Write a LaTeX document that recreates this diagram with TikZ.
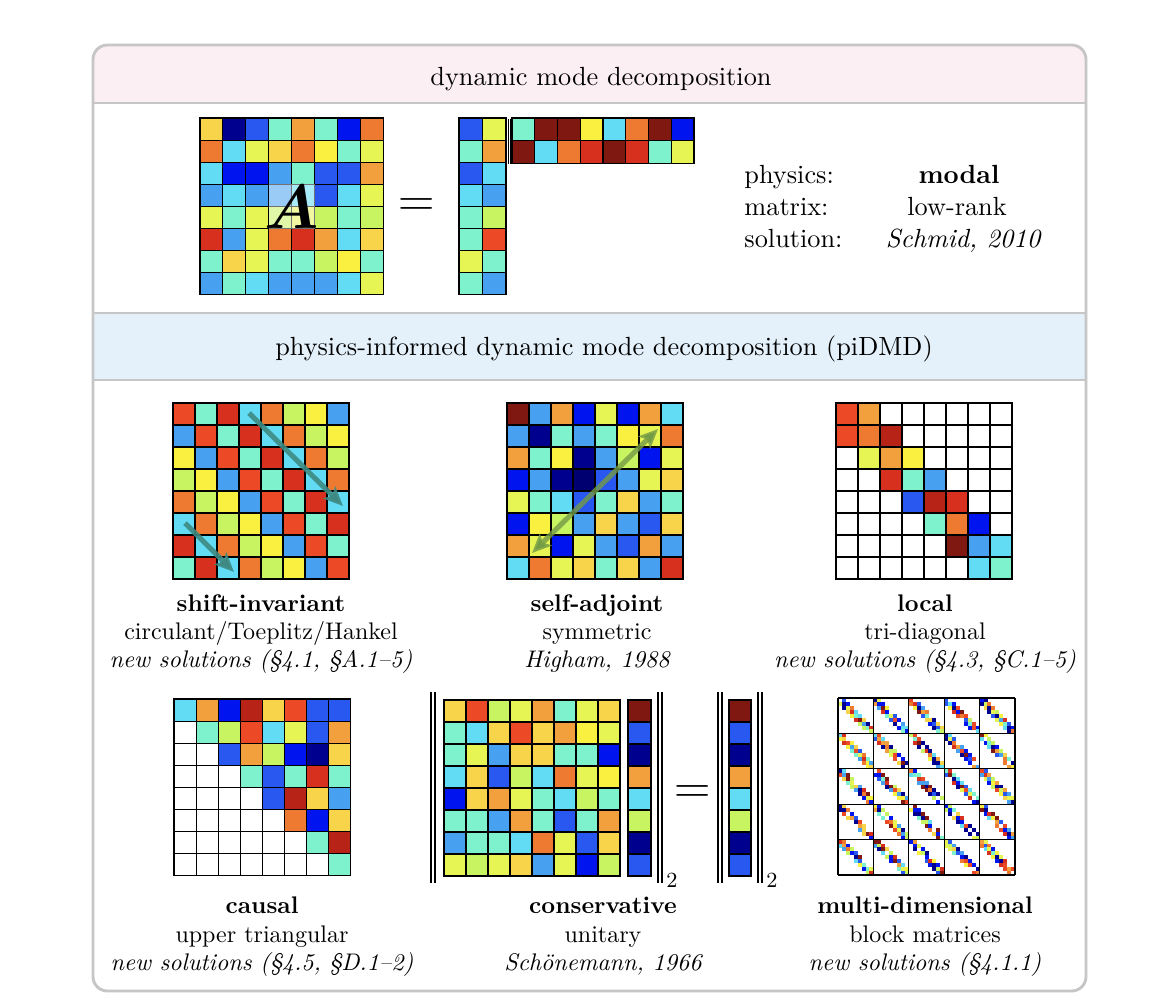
\documentclass[tikz,border=0pt]{standalone}
\usepackage{fix-cm}
\usepackage{bm}
\usetikzlibrary{arrows.meta}
\definecolor{cX}{HTML}{000070}
\definecolor{cN}{HTML}{00008F}
\definecolor{cB}{HTML}{0014F0}
\definecolor{cM}{HTML}{2858F0}
\definecolor{cL}{HTML}{48A0F0}
\definecolor{cC}{HTML}{62DCF5}
\definecolor{cQ}{HTML}{7EF2CC}
\definecolor{cG}{HTML}{C8F462}
\definecolor{cY}{HTML}{E6F454}
\definecolor{cW}{HTML}{FAF040}
\definecolor{cH}{HTML}{F8D44A}
\definecolor{cO}{HTML}{F2A03E}
\definecolor{cP}{HTML}{EE7A32}
\definecolor{cE}{HTML}{EC4A26}
\definecolor{cR}{HTML}{D8301E}
\definecolor{cD}{HTML}{B82318}
\definecolor{cK}{HTML}{801812}
\definecolor{cw}{HTML}{FFFFFF}
\colorlet{jet0}{cN}\colorlet{jet1}{cB}\colorlet{jet2}{cM}\colorlet{jet3}{cL}
\colorlet{jet4}{cC}\colorlet{jet5}{cQ}\colorlet{jet6}{cG}\colorlet{jet7}{cY}
\colorlet{jet8}{cW}\colorlet{jet9}{cH}\colorlet{jet10}{cO}\colorlet{jet11}{cP}
\colorlet{jet12}{cE}\colorlet{jet13}{cR}\colorlet{jet14}{cK}
\colorlet{jet15}{cN}\colorlet{jet16}{cB}
\definecolor{framegray}{HTML}{C6C6C6}
\definecolor{hdrpink}{HTML}{FCEFF3}
\definecolor{hdrblue}{HTML}{E4F1FA}
\definecolor{tealarrow}{HTML}{3E8A82}
\definecolor{olivearrow}{HTML}{739A45}
\tikzset{
  lbl/.style={inner sep=0pt, anchor=base, font=\fontsize{10}{12}\selectfont},
  ttl/.style={inner sep=0pt, anchor=base, font=\fontsize{10}{12}\selectfont\bfseries},
  itl/.style={inner sep=0pt, anchor=base, font=\fontsize{10}{12}\selectfont\itshape},
  hdr/.style={inner sep=0pt, anchor=base, font=\fontsize{10.95}{13}\selectfont},
  bigsym/.style={inner sep=0pt, font=\fontsize{21}{25}\selectfont},
  biglet/.style={inner sep=0pt, font=\fontsize{26}{30}\selectfont},
  subsc/.style={inner sep=0pt, anchor=base, font=\fontsize{9}{10}\selectfont},
  framestyle/.style={draw=framegray, line width=1.2pt},
  normbar/.style={line width=0.45pt},
  shiftarrow/.style={draw=tealarrow, line width=2.1pt, draw opacity=0.9, -{Stealth[length=8pt,width=7pt,inset=1.8pt]}},
  symarrow/.style={draw=olivearrow, line width=2.1pt, draw opacity=0.8, {Stealth[length=8pt,width=7pt,inset=1.8pt]}-{Stealth[length=8pt,width=7pt,inset=1.8pt]}},
}
% #1 x0, #2 y0, #3 cell width, #4 cell height, #5 rows
\newcommand\drawmat[5]{%
  \foreach \mrow [count=\rowidx from 0] in {#5}{%
    \foreach \mcell [count=\colidx from 0] in \mrow {%
      \filldraw[fill=c\mcell, draw=black, line width=0.45pt]
        ({#1+\colidx*#3},{#2+\rowidx*#4}) rectangle ++(#3,#4);
    }%
  }%
}
\begin{document}
\begin{tikzpicture}[x=0.4167pt,y=-0.4167pt]
\useasboundingbox (0,0) rectangle (1162,1002);
\fill[white] (0,0) rectangle (1162,1002);
% frame and headers
\begin{scope}
  \path[clip, rounded corners=6pt] (93,45) rectangle (1086,991);
  \fill[hdrpink] (93,45) rectangle (1086,103);
  \fill[hdrblue] (93,313) rectangle (1086,380);
\end{scope}
\draw[framestyle] (93,103) -- (1086,103);
\draw[framestyle] (93,313) -- (1086,313);
\draw[framestyle] (93,380) -- (1086,380);
\draw[framestyle, rounded corners=6pt] (93,45) rectangle (1086,991);
\node[hdr] (h1) at (601,85) {dynamic mode decomposition};
\node[hdr] (h2) at (604,355) {physics-informed dynamic mode decomposition (piDMD)};

% ---- DMD: A = U V^T
\drawmat{200}{118}{22.9}{22.1}{{H,N,M,Q,O,Q,B,P},{P,C,Y,H,P,W,Q,Y},{C,B,B,L,Q,M,M,O},{L,C,L,L,C,M,C,Y},{Y,Q,Y,G,Y,G,Q,G},{R,L,Y,P,R,O,C,H},{Q,H,Y,Q,Q,G,W,Q},{L,Q,C,L,L,L,C,Y}}
\fill[white, opacity=0.45] (268.7,184.3) rectangle (314.5,228.5);
\node[biglet] (Alab) at (291.5,207) {$\bm{A}$};
\node[bigsym] (eq1) at (417,208) {$=$};
\drawmat{459}{118}{23.5}{22.1}{{M,Y},{Q,O},{M,C},{C,L},{Q,G},{Q,E},{Y,Q},{Q,L}}
\draw[normbar] (508.3,119) -- (508.3,164);
\draw[normbar] (510.7,119) -- (510.7,164);
\drawmat{512}{118}{22.75}{22.8}{{Q,K,K,W,C,P,K,B},{K,C,P,R,K,R,Q,Y}}
\node[hdr, anchor=base west] (p1) at (744,183) {physics:};
\node[hdr, anchor=base west] (p2) at (744,215) {matrix:};
\node[hdr, anchor=base west] (p3) at (744,247) {solution:};
\node[hdr, font=\fontsize{10.95}{13}\selectfont\bfseries] (q1) at (959,183) {modal};
\node[hdr] (q2) at (957,215) {low-rank};
\node[hdr, font=\fontsize{10.95}{13}\selectfont\itshape] (q3) at (963,247) {Schmid, 2010};

% ---- shift-invariant
\drawmat{173}{403}{22}{22}{{E,Q,R,C,P,G,W,L},{L,E,Q,R,C,P,G,W},{W,L,E,Q,R,C,P,G},{G,W,L,E,Q,R,C,P},{P,G,W,L,E,Q,R,C},{C,P,G,W,L,E,Q,R},{R,C,P,G,W,L,E,Q},{Q,R,C,P,G,W,L,E}}
\coordinate (sa1) at (249,413);
\coordinate (sb1) at (343,506);
\coordinate (sa2) at (185,523);
\coordinate (sb2) at (234,572);
\draw[shiftarrow] (sa1) -- (sb1);
\draw[shiftarrow] (sa2) -- (sb2);
\node[ttl] (t1) at (261,611) {shift-invariant};
\node[lbl] (l1) at (261,639) {circulant/Toeplitz/Hankel};
\node[itl] (n1) at (261,667) {new solutions (\S4.1, \S A.1--5)};

% ---- self-adjoint
\drawmat{507}{403}{22}{22}{{K,L,O,B,Y,B,O,C},{L,N,Q,L,Q,W,Y,P},{O,Q,W,N,L,G,B,Y},{B,L,N,X,M,L,Y,H},{Y,Q,C,M,Q,H,L,Q},{B,W,G,L,H,L,M,H},{O,Y,B,Y,L,M,O,L},{C,P,Y,H,Q,H,L,R}}
\coordinate (ya) at (532,553);
\coordinate (yb) at (658,429);
\draw[symarrow] (ya) -- (yb);
\node[ttl] (t2) at (597,611) {self-adjoint};
\node[lbl] (l2) at (597,639) {symmetric};
\node[itl] (n2) at (597,667) {Higham, 1988};

% ---- local
\drawmat{836}{403}{22}{22}{{E,O,w,w,w,w,w,w},{E,P,D,w,w,w,w,w},{w,Y,O,W,w,w,w,w},{w,w,R,Q,L,w,w,w},{w,w,w,M,D,R,w,w},{w,w,w,w,Q,P,B,w},{w,w,w,w,w,K,L,C},{w,w,w,w,w,w,C,Q}}
\node[ttl] (t3) at (925,611) {local};
\node[lbl] (l3) at (925,639) {tri-diagonal};
\node[itl] (n3) at (925,667) {new solutions (\S4.3, \S C.1--5)};

% ---- causal
\drawmat{174}{699}{22.1}{22.1}{{C,O,B,D,H,E,M,M},{w,Q,G,E,C,Y,M,O},{w,w,M,O,G,B,N,H},{w,w,w,Q,M,Q,R,Q},{w,w,w,w,M,D,H,L},{w,w,w,w,w,P,B,H},{w,w,w,w,w,w,Q,D},{w,w,w,w,w,w,w,Q}}
\node[ttl] (t4) at (262,913) {causal};
\node[lbl] (l4) at (262,942) {upper triangular};
\node[itl] (n4) at (262,970) {new solutions (\S4.5, \S D.1--2)};

% ---- conservative
\draw[normbar] (431,692) -- (431,883);
\draw[normbar] (435,692) -- (435,883);
\drawmat{444}{700}{22}{22}{{H,E,G,Y,O,Q,Y,H},{Q,C,H,E,H,O,W,Y},{Q,Y,L,H,H,Q,Q,B},{C,H,M,G,C,P,Y,W},{B,H,O,Y,Q,C,G,Q},{Q,Q,L,O,Q,M,Q,O},{L,Q,Q,C,P,Y,M,H},{Y,G,Y,H,L,Y,B,G}}
\drawmat{628}{700}{23}{22}{{K},{M},{N},{O},{C},{G},{N},{M}}
\draw[normbar] (658,692) -- (658,883);
\draw[normbar] (662,692) -- (662,883);
\node[subsc] (s1) at (672,887) {2};
\node[bigsym] (eq2) at (693,795) {$=$};
\draw[normbar] (718,692) -- (718,883);
\draw[normbar] (722,692) -- (722,883);
\drawmat{729}{700}{22}{22}{{K},{M},{N},{O},{C},{G},{N},{M}}
\draw[normbar] (758,692) -- (758,883);
\draw[normbar] (762,692) -- (762,883);
\node[subsc] (s2) at (772,887) {2};
\node[ttl] (t5) at (603,913) {conservative};
\node[lbl] (l5) at (603,942) {unitary};
\node[itl] (n5) at (603,970) {Sch\"onemann, 1966};

% ---- multi-dimensional
\pgfmathsetseed{11}
\foreach \bi in {0,...,4}{%
 \foreach \bj in {0,...,4}{%
  \foreach \si in {0,...,8}{%
   \foreach \dd in {-1,0,1}{%
     \pgfmathtruncatemacro\sj{\si+\dd}%
     \pgfmathrandominteger{\rc}{0}{18}%
     \ifnum\sj>-1 \ifnum\sj<9 \ifnum\rc<17
       \fill[jet\rc] ({838+\bj*35.4+\sj*3.93},{698+\bi*35.4+\si*3.93}) rectangle ++(4,4);
     \fi\fi\fi
   }}}}
\foreach \k in {0,...,5}{%
  \draw[line width=0.55pt] ({838+\k*35.4},698) -- ++(0,177);
  \draw[line width=0.55pt] (838,{698+\k*35.4}) -- ++(177,0);
}
\node[ttl] (t6) at (925,913) {multi-dimensional};
\node[lbl] (l6) at (925,942) {block matrices};
\node[itl] (n6) at (925,970) {new solutions (\S4.1.1)};
\end{tikzpicture}
\end{document}
